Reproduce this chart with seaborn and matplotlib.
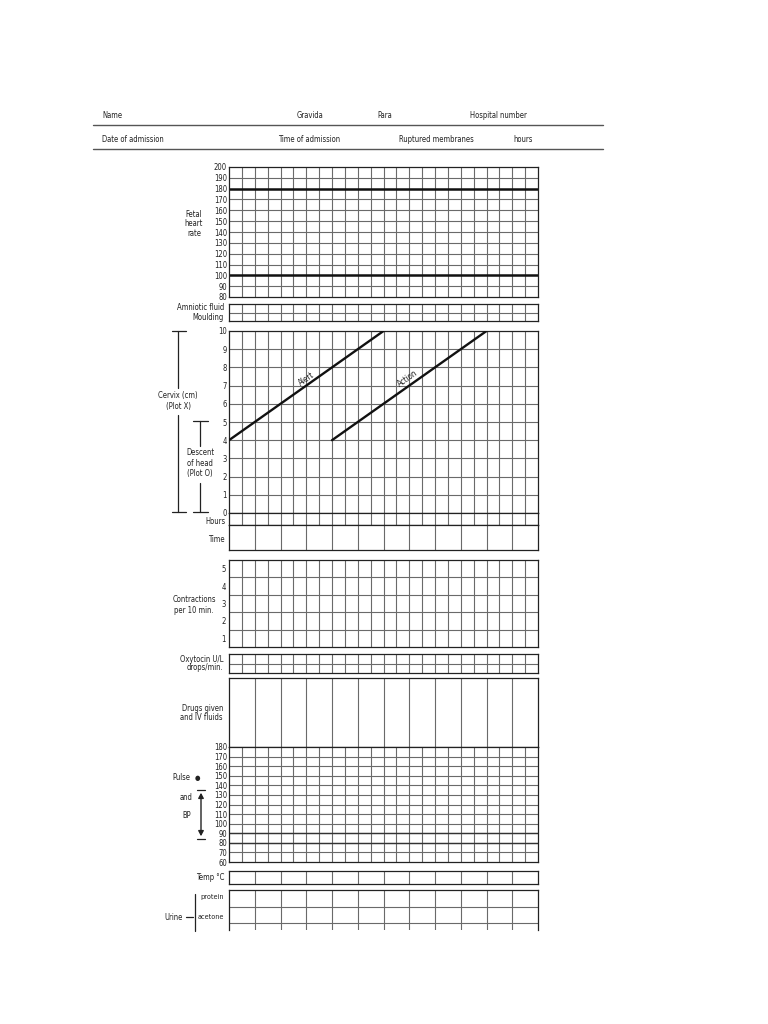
import numpy as np
import pandas as pd
import matplotlib
matplotlib.use("Agg")
import matplotlib.pyplot as plt
from matplotlib.lines import Line2D
from matplotlib.patches import FancyArrowPatch
import seaborn as sns

sns.set_style("white")
plt.rcParams['font.family'] = ['DejaVu Sans']
plt.rcParams['font.stretch'] = 'condensed'

# Chart data
hours = [0, 12]                      # twelve hours, half-hour columns
fhr_ticks = list(range(80, 201, 10))
fhr_limits = [100, 180]              # thick lines
cervix_ticks = list(range(0, 11))
alert_hours = [0, 6]
alert_cm = [4, 10]
action_hours = [4, 10]
action_cm = [4, 10]
contraction_labels = ['1', '2', '3', '4', '5']
pulse_ticks = list(range(60, 181, 10))

W, H = 768, 1024
fig = plt.figure(figsize=(W / 100, H / 100), dpi=100)

FS = 5.5
INK = '#222222'
GRID = '#6a6a6a'

X0, X1 = 229, 538


def px_axes(y0, y1, x0=X0, x1=X1):
    ax = fig.add_axes([x0 / W, 1 - y1 / H, (x1 - x0) / W, (y1 - y0) / H])
    ax.set_xlim(*hours)
    ax.set_xticks([])
    ax.set_yticks([])
    for s in ax.spines.values():
        s.set_color(INK)
        s.set_linewidth(0.9)
    return ax


def vgrid(ax, step=0.5, lw=0.8):
    for v in np.arange(step, hours[1], step):
        ax.axvline(v, color=GRID, lw=lw, zorder=1)


def hgrid(ax, vals, lw=0.8, color=GRID):
    for v in vals:
        ax.axhline(v, color=color, lw=lw, zorder=1)


def ftext(x, y, s, ha='left', va='center', **kw):
    fig.text(x / W, 1 - y / H, s, ha=ha, va=va, fontsize=kw.pop('fontsize', FS),
             color=kw.pop('color', INK), linespacing=kw.pop('linespacing', 1.2), **kw)


def fline(xs, ys, lw=0.9, color=INK):
    fig.add_artist(Line2D([x / W for x in xs], [1 - y / H for y in ys],
                          lw=lw, color=color))


# ---------------- header ----------------
ftext(102, 116, 'Name')
ftext(297, 116, 'Gravida')
ftext(377, 116, 'Para')
ftext(470, 116, 'Hospital number')
fline([93, 603], [125, 125], lw=1.0, color='#555555')
ftext(102, 140, 'Date of admission')
ftext(278, 140, 'Time of admission')
ftext(399, 140, 'Ruptured membranes')
ftext(513, 140, 'hours')
fline([93, 603], [149, 149], lw=1.0, color='#555555')

# ---------------- fetal heart rate ----------------
ax = px_axes(167, 297)
ax.set_ylim(fhr_ticks[0], fhr_ticks[-1])
vgrid(ax)
hgrid(ax, fhr_ticks[1:-1])
hgrid(ax, fhr_limits, lw=1.8, color='#111111')
ax.set_yticks(fhr_ticks)
ax.set_yticklabels([str(t) for t in fhr_ticks], fontsize=FS, color=INK)
ax.tick_params(axis='y', length=0, pad=1.5)
ftext(194, 224, 'Fetal\nheart\nrate', ha='center', linespacing=1.1)

# amniotic fluid / moulding
ax = px_axes(304, 321)
ax.set_ylim(0, 2)
vgrid(ax)
hgrid(ax, [1])
ftext(224, 308, 'Amniotic fluid', ha='right')
ftext(224, 317, 'Moulding', ha='right')

# ---------------- cervix ----------------
ax = px_axes(331, 513)
ax.set_ylim(cervix_ticks[0], cervix_ticks[-1])
vgrid(ax)
hgrid(ax, cervix_ticks[1:-1])
ax.set_yticks(cervix_ticks)
ax.set_yticklabels([str(t) for t in cervix_ticks], fontsize=FS, color=INK)
ax.tick_params(axis='y', length=0, pad=1.5)

lines_df = pd.DataFrame({
    'hour': alert_hours + action_hours,
    'cm': alert_cm + action_cm,
    'line': ['Alert'] * 2 + ['Action'] * 2,
})
sns.lineplot(data=lines_df, x='hour', y='cm', units='line', estimator=None,
             color='#111111', lw=1.7, ax=ax, legend=False, zorder=3)
ax.set_xlim(*hours)
ax.set_ylim(cervix_ticks[0], cervix_ticks[-1])
ax.set_xlabel('')
ax.set_ylabel('')
fig.canvas.draw()
p0 = ax.transData.transform((alert_hours[0], alert_cm[0]))
p1 = ax.transData.transform((alert_hours[1], alert_cm[1]))
ang = np.degrees(np.arctan2(p1[1] - p0[1], p1[0] - p0[0]))
for hx, hy, lab in [(3.0, 7.35, 'Alert'), (6.95, 7.4, 'Action')]:
    ax.text(hx, hy, lab, rotation=ang, ha='center', va='center',
            fontsize=FS + 0.3, color=INK, rotation_mode='anchor')

# cervix bracket
fline([178, 178], [331, 388])
fline([178, 178], [415, 512])
fline([172, 186], [331, 331])
fline([172, 186], [512, 512])
ftext(178, 401, 'Cervix (cm)\n(Plot X)', ha='center')
# descent bracket
fline([200, 200], [421, 446])
fline([200, 200], [483, 512])
fline([193, 208], [421, 421])
fline([193, 208], [512, 512])
ftext(200, 463, 'Descent\nof head\n(Plot O)', ha='center')

# hours / time rows
ax = px_axes(513, 525)
ax.set_ylim(0, 1)
vgrid(ax)
ax = px_axes(525, 550)
ax.set_ylim(0, 1)
vgrid(ax, step=1)
ftext(225, 521, 'Hours', ha='right')
ftext(225, 539, 'Time', ha='right')

# ---------------- contractions ----------------
ax = px_axes(560, 647)
ax.set_ylim(0, len(contraction_labels))
vgrid(ax)
hgrid(ax, range(1, len(contraction_labels)))
ax.set_yticks(np.arange(len(contraction_labels)) + 0.5)
ax.set_yticklabels(contraction_labels, fontsize=FS, color=INK)
ax.tick_params(axis='y', length=0, pad=2.5)
ftext(194, 605, 'Contractions\nper 10 min.', ha='center')

# oxytocin
ax = px_axes(654, 673)
ax.set_ylim(0, 2)
vgrid(ax)
hgrid(ax, [1])
ftext(223, 659, 'Oxytocin U/L', ha='right')
ftext(223, 668, 'drops/min.', ha='right')

# drugs
ax = px_axes(678, 747)
ax.set_ylim(0, 1)
vgrid(ax, step=1)
ftext(223, 713, 'Drugs given\nand IV fluids', ha='right', linespacing=1.05)

# ---------------- pulse and BP ----------------
ax = px_axes(747, 862)
ax.set_ylim(pulse_ticks[0], pulse_ticks[-1])
vgrid(ax)
hgrid(ax, pulse_ticks[1:-1])
hgrid(ax, [80, 90], lw=1.0, color='#333333')
ax.set_yticks(pulse_ticks)
ax.set_yticklabels([str(t) for t in pulse_ticks], fontsize=FS, color=INK)
ax.tick_params(axis='y', length=0, pad=1.5)
ftext(190, 778, 'Pulse', ha='right')
ftext(197, 778, '\u25cf', ha='center', fontsize=5)
ftext(186, 797, 'and', ha='center')
ftext(187, 815, 'BP', ha='center')
fline([197, 205], [790, 790])
fline([197, 205], [839, 839])
fig.add_artist(FancyArrowPatch((201 / W, 1 - 790 / H), (201 / W, 1 - 839 / H),
                               arrowstyle='<|-|>,head_length=3,head_width=1.6',
                               lw=1.0, color=INK, transform=fig.transFigure))

# temperature
ax = px_axes(871, 884)
ax.set_ylim(0, 1)
vgrid(ax, step=1)
ftext(224, 878, 'Temp \u00b0C', ha='right')

# urine
ax = px_axes(890, 930)
ax.set_ylim(-0.42, 2)
vgrid(ax, step=1)
hgrid(ax, [1, 0])
ax.spines['bottom'].set_visible(False)
ftext(224, 897, 'protein', ha='right', fontsize=FS - 0.3)
ftext(224, 917, 'acetone', ha='right', fontsize=FS - 0.3)
ftext(183, 917, 'Urine', ha='right')
fline([186, 193], [917, 917])
fline([195, 195], [894, 931])

fig.savefig('out.png', dpi=100)
